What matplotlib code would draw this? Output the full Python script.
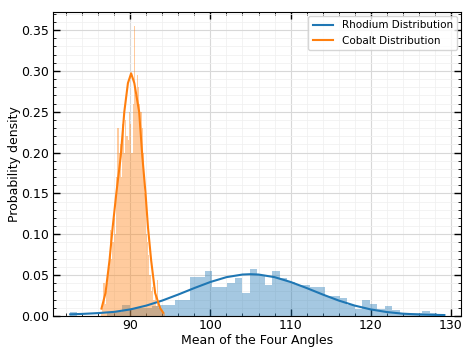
import numpy as np
import matplotlib
matplotlib.use('Agg')
import matplotlib.pyplot as plt
from matplotlib.ticker import AutoMinorLocator

# Rhodium histogram: 50 bins between 82.45 and 129.25, density per bin
rh_range = (82.45, 129.25)
rh_density = [0.005, 0.0, 0.0, 0.0, 0.0, 0.003, 0.005, 0.013, 0.010, 0.010,
              0.010, 0.012, 0.0135, 0.0135, 0.0195, 0.0195, 0.048, 0.048, 0.055, 0.036,
              0.036, 0.040, 0.046, 0.028, 0.057, 0.050, 0.038, 0.055, 0.047, 0.041,
              0.038, 0.038, 0.036, 0.035, 0.024, 0.024, 0.0216, 0.0135, 0.0088, 0.020,
              0.0147, 0.008, 0.012, 0.0073, 0.0033, 0.0033, 0.003, 0.006, 0.003, 0.002]

# Cobalt histogram: 50 bins between 86.3 and 94.3
co_range = (86.3, 94.3)
co_density = [0.005, 0.010, 0.040, 0.015, 0.030, 0.040, 0.060, 0.105, 0.070, 0.090,
              0.120, 0.100, 0.170, 0.230, 0.200, 0.210, 0.170, 0.235, 0.200, 0.240,
              0.220, 0.215, 0.250, 0.235, 0.200, 0.260, 0.355, 0.270, 0.295, 0.280,
              0.260, 0.250, 0.230, 0.200, 0.150, 0.100, 0.090, 0.075, 0.050, 0.030,
              0.035, 0.020, 0.025, 0.012, 0.044, 0.010, 0.012, 0.008, 0.006, 0.004]

# fitted curves
rh_curve_x = [82.5, 84, 86, 88, 90, 92, 94, 96, 98, 100, 102, 104, 105, 106,
              108, 110, 112, 114, 116, 118, 120, 122, 124, 126, 128, 129.2]
rh_curve_y = [0.002, 0.0025, 0.0035, 0.005, 0.008, 0.0127, 0.0189, 0.0263, 0.0342, 0.0416,
              0.0475, 0.0507, 0.0511, 0.0507, 0.0475, 0.0416, 0.0342, 0.0263, 0.0189, 0.0127,
              0.008, 0.0048, 0.0028, 0.0018, 0.0013, 0.0011]

co_curve_x = [86.4, 86.9, 87.4, 87.8, 88.25, 88.8, 89.25, 89.7, 90.1,
              90.5, 91.1, 91.5, 91.9, 92.2, 92.6, 93.1, 93.7, 94.1]
co_curve_y = [0.009, 0.028, 0.068, 0.109, 0.150, 0.195, 0.250, 0.285, 0.297,
              0.285, 0.250, 0.195, 0.150, 0.109, 0.068, 0.028, 0.010, 0.004]

blue = '#1f77b4'
orange = '#ff7f0e'
fs = 9

fig = plt.figure(figsize=(4.74, 3.55), dpi=100)
ax = fig.add_axes([0.111, 0.110, 0.862, 0.856])

rh_edges = np.linspace(rh_range[0], rh_range[1], len(rh_density) + 1)
co_edges = np.linspace(co_range[0], co_range[1], len(co_density) + 1)

ax.bar(rh_edges[:-1], rh_density, width=np.diff(rh_edges), align='edge',
       color=blue, alpha=0.4, linewidth=0, zorder=1)
ax.bar(co_edges[:-1], co_density, width=np.diff(co_edges), align='edge',
       color=orange, alpha=0.4, linewidth=0, zorder=1)

ax.plot(rh_curve_x, rh_curve_y, color=blue, linewidth=1.5, label='Rhodium Distribution', zorder=3)
ax.plot(co_curve_x, co_curve_y, color=orange, linewidth=1.5, label='Cobalt Distribution', zorder=3)

ax.set_xlim(80.3, 131.3)
ax.set_ylim(0, 0.372)
ax.set_xticks([90, 100, 110, 120, 130])
ax.set_yticks(np.arange(0, 0.351, 0.05))
ax.xaxis.set_minor_locator(AutoMinorLocator(5))
ax.yaxis.set_minor_locator(AutoMinorLocator(5))

ax.set_axisbelow(True)
ax.grid(which='major', color='#d8d8d8', linewidth=0.8)
ax.grid(which='minor', color='#efefef', linewidth=0.5)

ax.tick_params(which='both', direction='in', top=True, right=True, labelsize=fs, pad=2.5)
ax.tick_params(which='major', length=5, width=1)
ax.tick_params(which='minor', length=2.5, width=0.6)

ax.set_xlabel('Mean of the Four Angles', fontsize=fs, labelpad=1)
ax.set_ylabel('Probability density', fontsize=fs, labelpad=0)
ax.legend(loc='upper right', fontsize=7.5, borderaxespad=0.4)

plt.savefig('out.png', dpi=100)
plt.close()
